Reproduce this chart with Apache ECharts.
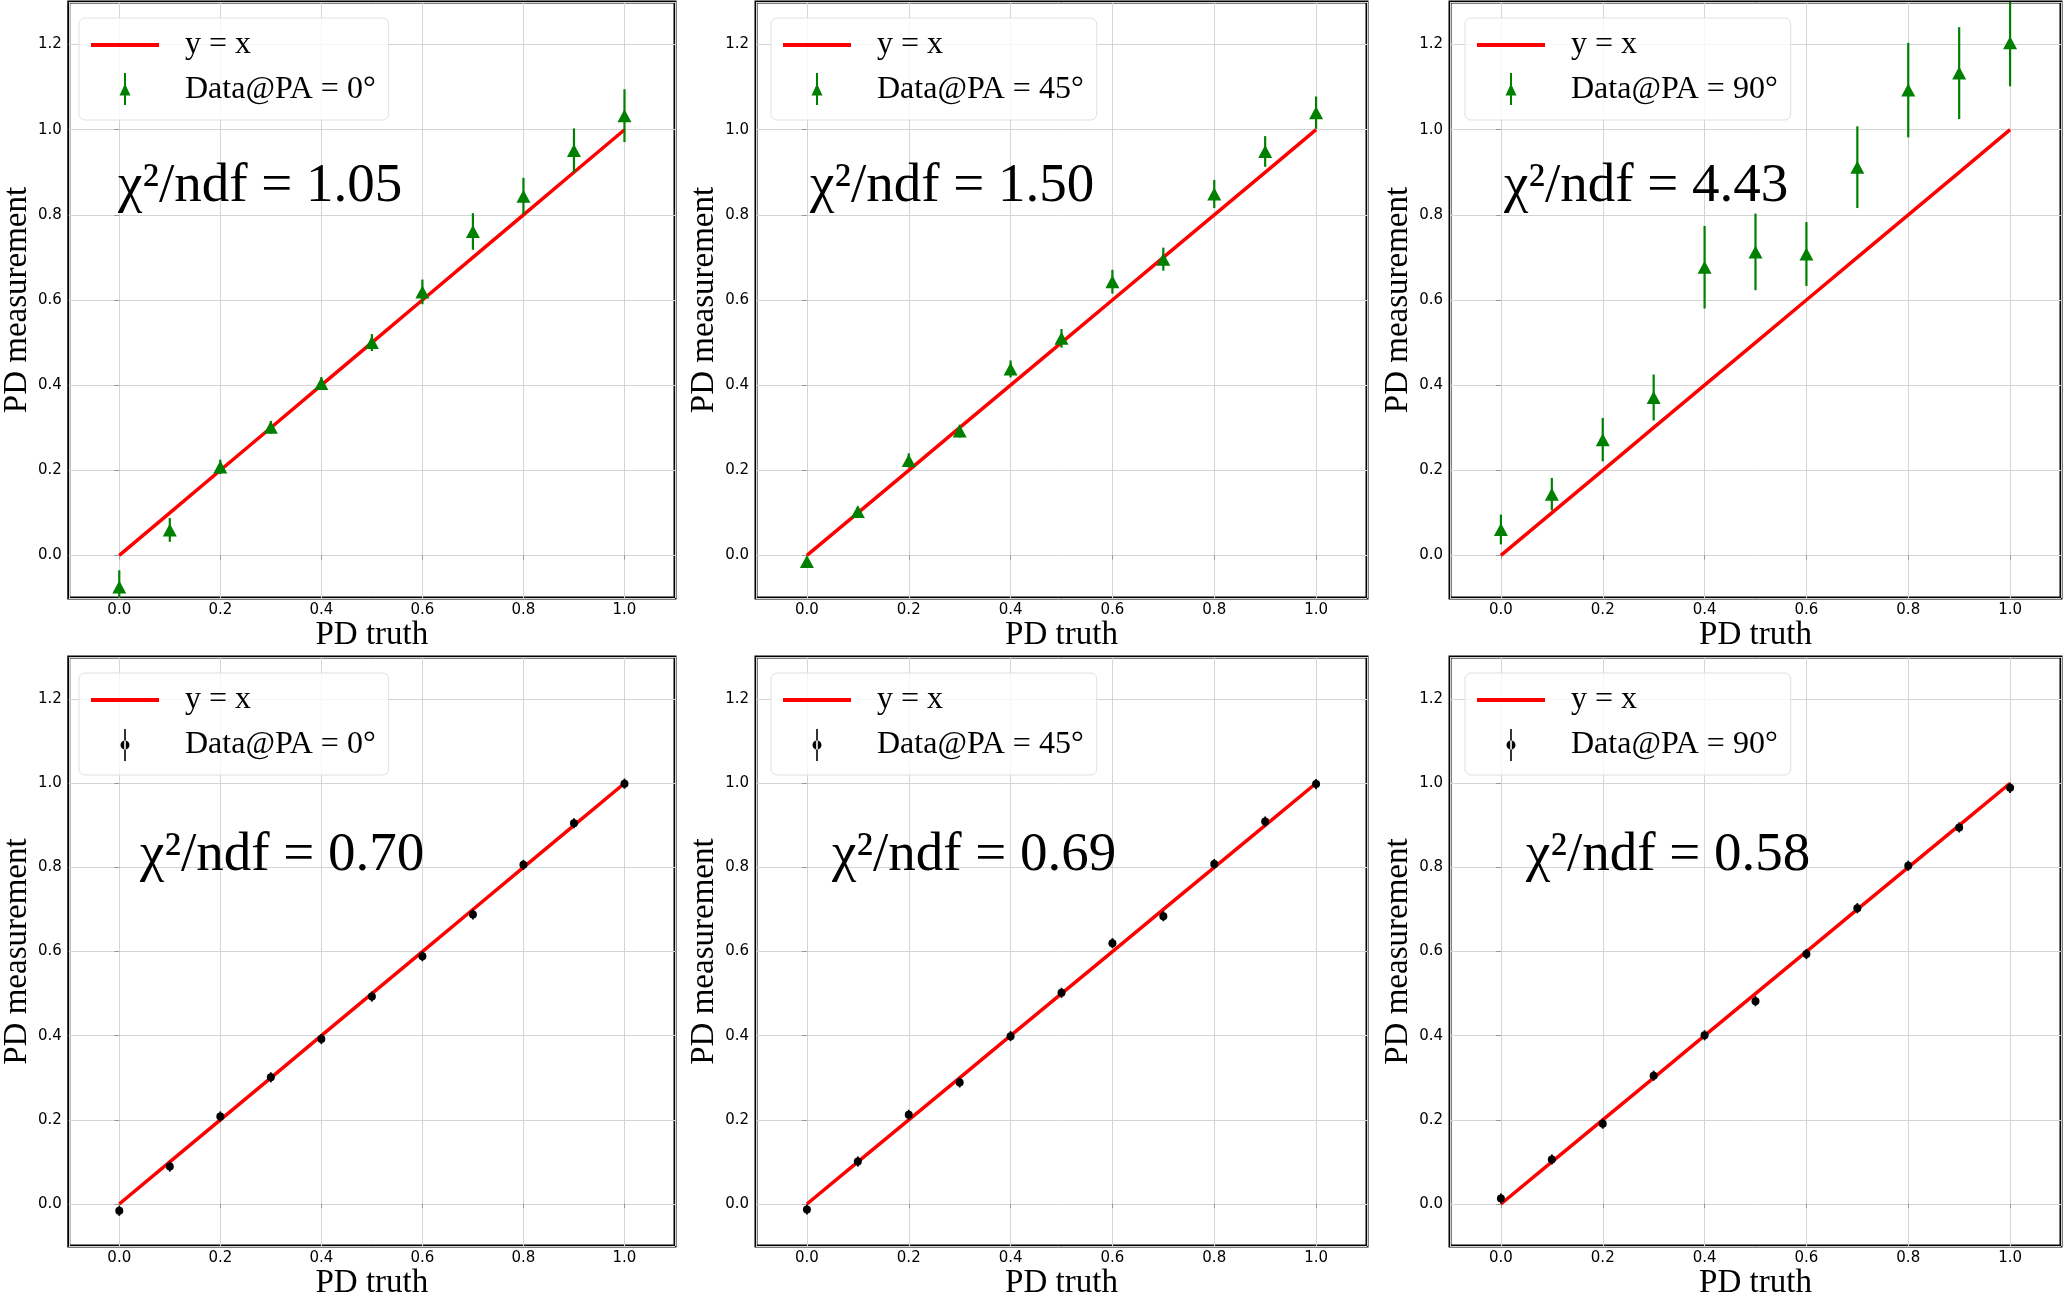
<!DOCTYPE html>
<html>
<head>
<meta charset="utf-8">
<title>PD measurement vs PD truth</title>
<script src="https://cdn.jsdelivr.net/npm/echarts@6/dist/echarts.min.js"></script>
<style>
  html, body { margin: 0; padding: 0; background: #fff; }
  #chart { width: 2064px; height: 1301px; }
</style>
</head>
<body>
<div id="chart"></div>
<script>
// x values shared by every panel
const pdTruth = [0, 0.1, 0.2, 0.3, 0.4, 0.5, 0.6, 0.7, 0.8, 0.9, 1.0];

// top row (green triangles)
const pa0Top = [-0.074, 0.060, 0.208, 0.301, 0.404, 0.500, 0.619, 0.761, 0.844, 0.951, 1.033];
const pa0TopErr = [0.039, 0.028, 0.017, 0.015, 0.015, 0.020, 0.029, 0.043, 0.043, 0.052, 0.062];
const pa45Top = [-0.014, 0.103, 0.223, 0.292, 0.438, 0.510, 0.643, 0.696, 0.849, 0.949, 1.040];
const pa45TopErr = [0.010, 0.010, 0.017, 0.015, 0.020, 0.022, 0.028, 0.027, 0.033, 0.036, 0.038];
const pa90Top = [0.061, 0.144, 0.272, 0.371, 0.677, 0.713, 0.708, 0.912, 1.093, 1.133, 1.204];
const pa90TopErr = [0.035, 0.038, 0.051, 0.054, 0.097, 0.090, 0.075, 0.096, 0.111, 0.108, 0.102];

// bottom row (black dots)
const pa0Bot = [-0.016, 0.089, 0.208, 0.301, 0.392, 0.493, 0.589, 0.688, 0.806, 0.905, 0.999];
const pa0BotErr = [0.012, 0.012, 0.012, 0.012, 0.012, 0.012, 0.012, 0.012, 0.012, 0.012, 0.012];
const pa45Bot = [-0.013, 0.101, 0.212, 0.289, 0.399, 0.502, 0.620, 0.684, 0.808, 0.909, 0.998];
const pa45BotErr = [0.012, 0.012, 0.012, 0.012, 0.012, 0.012, 0.012, 0.012, 0.012, 0.012, 0.012];
const pa90Bot = [0.013, 0.106, 0.191, 0.305, 0.401, 0.482, 0.594, 0.703, 0.804, 0.895, 0.989];
const pa90BotErr = [0.012, 0.012, 0.012, 0.012, 0.012, 0.012, 0.012, 0.012, 0.012, 0.012, 0.012];

const angles = ['0°', '45°', '90°'];
const chi2Top = ['1.05', '1.50', '4.43'];
const chi2Bot = ['0.70', '0.69', '0.58'];

const xMin = -0.1, xMax = 1.1, yMin = -0.1, yMax = 1.3;

var chart = echarts.init(document.getElementById('chart'));

const serif = 'Liberation Serif';
const sans = 'DejaVu Sans';
const colLeft = [64, 756, 1450];
const rowTop = [2, 657];
const panelW = 611, panelH = 596;

// legend glyphs, the first two moves fix the box so icons are not stretched
const lineIcon = 'path://M0 0 M89 36 M0 16 L68 16 L68 20 L0 20 Z';
const triIcon = 'path://M0 0 M89 36 M33 1 L35 1 L35 33 L33 33 Z M34 11.5 L39.5 23.5 L28.5 23.5 Z';
const dotIcon = 'path://M0 0 M89 36 M33.2 2 L34.8 2 L34.8 34 L33.2 34 Z M29.5 18 A4.5 4.5 0 1 0 38.5 18 A4.5 4.5 0 1 0 29.5 18 Z';

const panels = [
  {values: pa0Top, errors: pa0TopErr, angle: angles[0], chi: chi2Top[0], color: '#008000', symbol: 'triangle'},
  {values: pa45Top, errors: pa45TopErr, angle: angles[1], chi: chi2Top[1], color: '#008000', symbol: 'triangle'},
  {values: pa90Top, errors: pa90TopErr, angle: angles[2], chi: chi2Top[2], color: '#008000', symbol: 'triangle'},
  {values: pa0Bot, errors: pa0BotErr, angle: angles[0], chi: chi2Bot[0], color: '#000000', symbol: 'circle'},
  {values: pa45Bot, errors: pa45BotErr, angle: angles[1], chi: chi2Bot[1], color: '#000000', symbol: 'circle'},
  {values: pa90Bot, errors: pa90BotErr, angle: angles[2], chi: chi2Bot[2], color: '#000000', symbol: 'circle'}
];

var grids = [], xAxes = [], yAxes = [], series = [], legends = [], labels = [];

panels.forEach(function (p, i) {
  const col = i % 3, row = Math.floor(i / 3);
  const left = colLeft[col], top = rowTop[row];
  const dataName = 'Data@PA = ' + p.angle;
  const isTop = row === 0;

  grids.push({
    left: left, top: top, width: panelW, height: panelH,
    show: true, borderColor: '#000', borderWidth: 3, backgroundColor: 'transparent'
  });

  xAxes.push({
    gridIndex: i, type: 'value', min: xMin, max: xMax, splitNumber: 6,
    name: 'PD truth', nameLocation: 'middle', nameGap: 14,
    nameTextStyle: {fontFamily: serif, fontSize: 33, color: '#000'},
    axisLine: {show: false},
    axisTick: {show: true, length: 4, lineStyle: {color: '#999'}},
    axisLabel: {
      showMinLabel: false, showMaxLabel: false, margin: 5,
      fontFamily: sans, fontSize: 15, color: '#000',
      formatter: function (v) { return v.toFixed(1); }
    },
    splitLine: {show: true, lineStyle: {color: '#d4d4d4', width: 1}}
  });

  yAxes.push({
    gridIndex: i, type: 'value', min: yMin, max: yMax, splitNumber: 7,
    name: 'PD measurement', nameLocation: 'middle', nameRotate: 90, nameGap: 34,
    nameTextStyle: {fontFamily: serif, fontSize: 33, color: '#000'},
    axisLine: {show: false},
    axisTick: {show: true, length: 5, lineStyle: {color: '#999'}},
    axisLabel: {
      showMinLabel: false, showMaxLabel: false, margin: 7,
      fontFamily: sans, fontSize: 15, color: '#000',
      formatter: function (v) { return v.toFixed(1); }
    },
    splitLine: {show: true, lineStyle: {color: '#d4d4d4', width: 1}}
  });

  series.push({
    name: 'y = x', type: 'line', xAxisIndex: i, yAxisIndex: i,
    data: pdTruth.map(function (x) { return [x, x]; }),
    symbol: 'none', color: '#ff0000',
    lineStyle: {color: '#ff0000', width: 3.5},
    z: 2, silent: true, animation: false
  });

  // error bars
  series.push({
    name: 'err' + i, type: 'custom', xAxisIndex: i, yAxisIndex: i,
    data: pdTruth.map(function (x, k) { return [x, p.values[k], p.errors[k]]; }),
    clip: true, z: 3, silent: true, animation: false,
    renderItem: function (params, api) {
      const x = api.value(0), y = api.value(1), e = api.value(2);
      const lo = api.coord([x, Math.max(y - e, yMin)]);
      const hi = api.coord([x, Math.min(y + e, yMax)]);
      return {
        type: 'line',
        shape: {x1: lo[0], y1: lo[1], x2: hi[0], y2: hi[1]},
        style: {stroke: p.color, lineWidth: isTop ? 2.2 : 1.8}
      };
    }
  });

  series.push({
    name: dataName, type: 'scatter', xAxisIndex: i, yAxisIndex: i,
    data: pdTruth.map(function (x, k) { return [x, p.values[k]]; }),
    symbol: p.symbol, symbolSize: isTop ? [14, 13] : 8,
    itemStyle: {color: p.color, opacity: 1},
    z: 4, silent: true, animation: false
  });

  legends.push({
    left: left + 15, top: top + 16, orient: 'vertical',
    itemWidth: 89, itemHeight: 36, itemGap: 9,
    padding: [9, 13, 12, 12],
    borderColor: '#e0e0e0', borderWidth: 1, borderRadius: 6,
    backgroundColor: 'rgba(255,255,255,0.8)',
    selectedMode: false,
    textStyle: {fontFamily: serif, fontSize: 32, color: '#000'},
    data: [
      {name: 'y = x', icon: lineIcon, itemStyle: {color: '#ff0000', borderWidth: 0}},
      {name: dataName, icon: isTop ? triIcon : dotIcon, itemStyle: {color: p.color, borderWidth: 0}}
    ]
  });

  // chi2 annotation
  labels.push({
    type: 'text',
    left: left + (isTop ? 54 : 76),
    top: top + (isTop ? 157 : 171),
    z: 10,
    style: {
      text: 'χ²/ndf = ' + p.chi,
      fontFamily: serif, fontSize: 55, fill: '#000'
    }
  });
});

chart.setOption({
  backgroundColor: '#fff',
  animation: false,
  legend: legends,
  grid: grids,
  xAxis: xAxes,
  yAxis: yAxes,
  series: series,
  graphic: labels
});

window.addEventListener('resize', function () {
  chart.resize();
});
</script>
</body>
</html>
